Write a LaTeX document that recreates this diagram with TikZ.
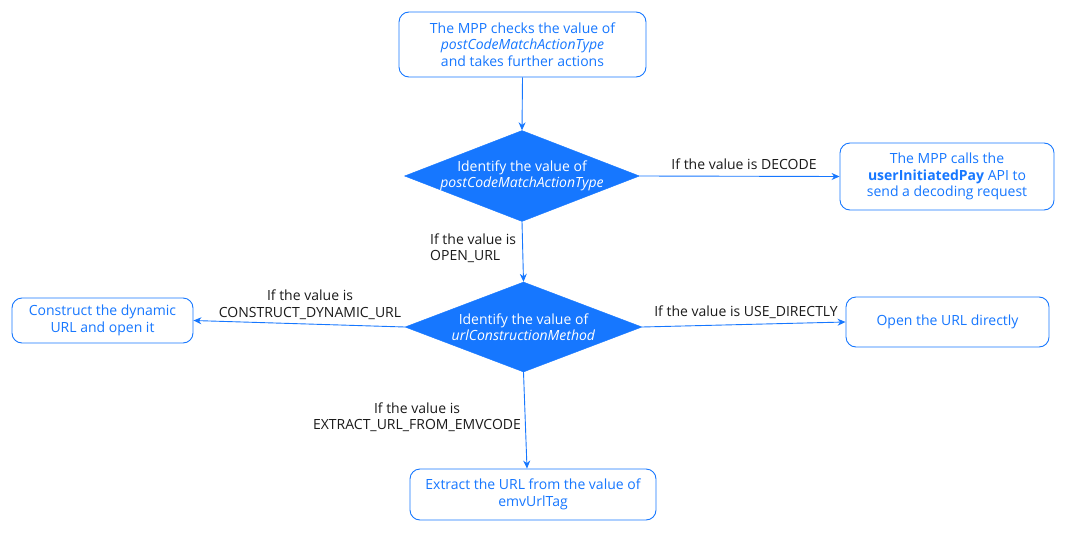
\documentclass[tikz,border=0pt]{standalone}
\usepackage{fontspec}
\setmainfont{Open Sans}
\usetikzlibrary{shapes.geometric,arrows.meta}
\definecolor{ablue}{HTML}{1677FF}
\definecolor{lblack}{HTML}{1A1A1A}
\tikzset{
  fnt/.style={font=\fontsize{14}{16.5}\selectfont},
  box/.style={draw=ablue, line width=0.9pt, rounded corners=10pt, fill=white, text=ablue, align=center, fnt, inner sep=0pt},
  dia/.style={shape=diamond, fill=ablue, draw=ablue, inner sep=0pt},
  diatext/.style={text=white, align=center, fnt},
  conn/.style={draw=ablue, line width=0.9pt, -{Stealth[length=8pt,width=7pt]}},
  lbl/.style={text=lblack, fnt, inner sep=0pt}
}
\begin{document}
\begin{tikzpicture}[x=1pt,y=-1pt]
\useasboundingbox (0,0) rectangle (1081,535);
\node[box, minimum width=247pt, minimum height=65pt] (start) at (522.5,44.5) {The MPP checks the value of\\\textit{postCodeMatchActionType}\\and takes further actions};
\node[dia, minimum width=235pt, minimum height=91pt] (d1) at (522,176) {};
\node[diatext] (d1t) at (522,176) {Identify the value of\\\textit{postCodeMatchActionType}};
\node[box, minimum width=214pt, minimum height=67pt] (call) at (947,176.5) {The MPP calls the\\\textbf{userInitiatedPay} API to\\send a decoding request};
\node[dia, minimum width=237pt, minimum height=90pt] (d2) at (523.5,327) {};
\node[diatext] (d2t) at (523.5,327) {Identify the value of\\\textit{urlConstructionMethod}};
\node[box, minimum width=181pt, minimum height=45pt] (cons) at (102.5,320.5) {Construct the dynamic\\URL and open it};
\node[box, minimum width=203pt, minimum height=50pt] (open) at (947.5,322) {Open the URL directly};
\node[box, minimum width=246pt, minimum height=51pt] (ext) at (533,494.5) {Extract the URL from the value of\\emvUrlTag};

\draw[conn] (start.south) -- (d1.north);
\draw[conn] (d1.east) -- (call.west);
\draw[conn] (d1.south) -- (d2.north);
\draw[conn] (d2.west) -- (cons.east);
\draw[conn] (d2.east) -- (open.west);
\draw[conn] (d2.south) -- (ext.north -| 527,0);

\node[lbl] (l1) at (744,164) {If the value is DECODE};
\node[lbl, align=left, anchor=west] (l2) at (430,248) {If the value is\\OPEN\_URL};
\node[lbl, align=center] (l3) at (310,304.5) {If the value is\\CONSTRUCT\_DYNAMIC\_URL};
\node[lbl] (l4) at (746,312) {If the value is USE\_DIRECTLY};
\node[lbl, align=center] (l5) at (417,417) {If the value is\\EXTRACT\_URL\_FROM\_EMVCODE};
\end{tikzpicture}
\end{document}
